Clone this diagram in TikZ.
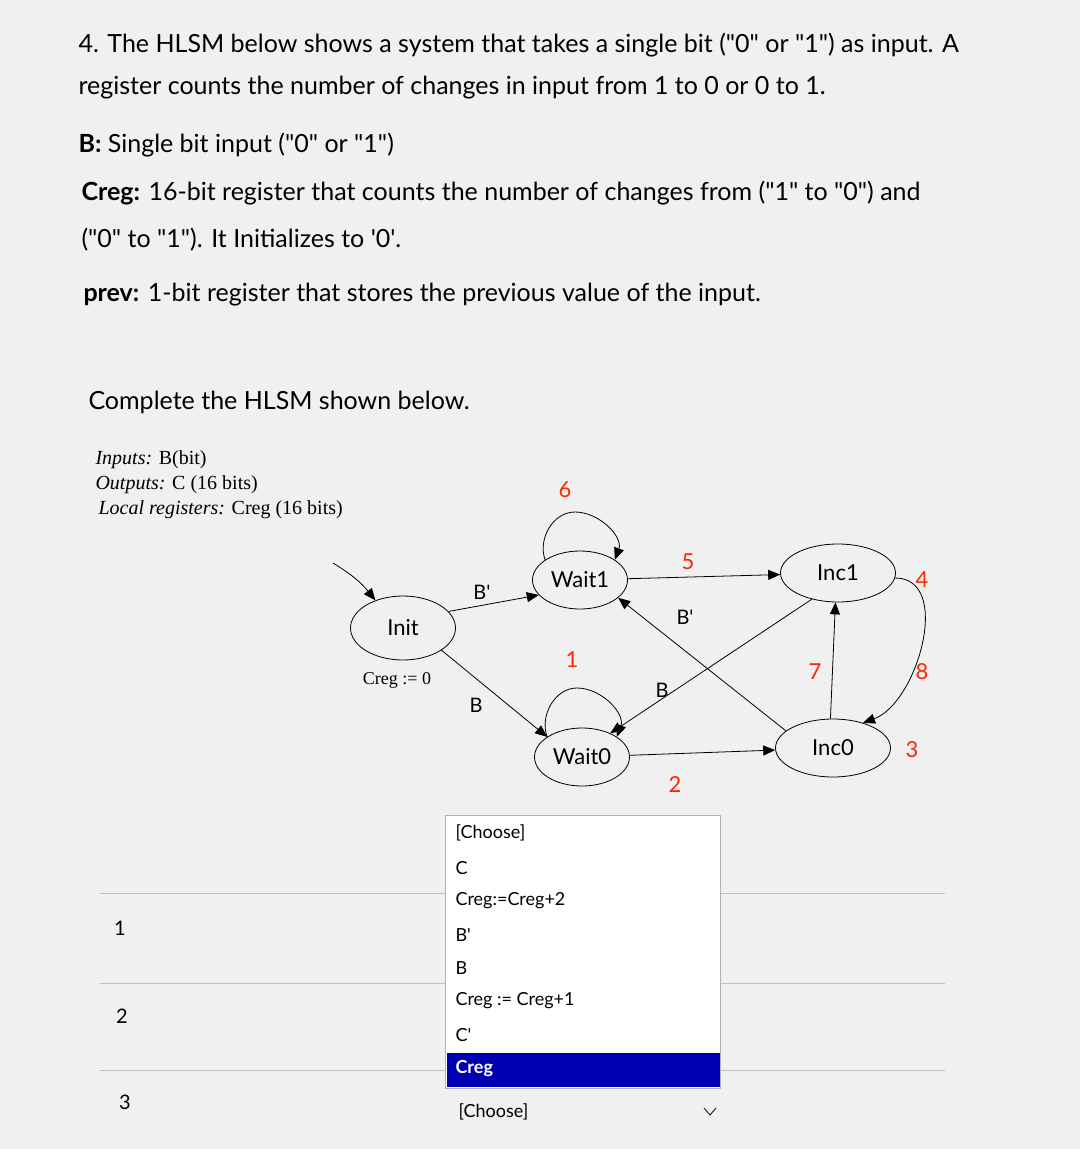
\documentclass[tikz,border=0pt]{standalone}
\usepackage{fontspec}
\setmainfont{Lato}
\newfontfamily\plainlato{Lato}[Ligatures=ResetAll]
\newfontfamily\serifx{Liberation Serif}
\usetikzlibrary{arrows.meta,shapes.geometric}
\newcommand\dq{{\plainlato\symbol{34}}}
\newcommand\sq{{\plainlato\symbol{39}}}
\begin{document}
\begin{tikzpicture}[x=1pt,y=-1pt,
  st/.style={draw,ellipse,thick,minimum width=100pt,minimum height=58pt,font=\fontsize{22}{24}\selectfont},
  ar/.style={thick,-{Triangle[length=12pt,width=10pt]}},
  red/.style={text=red!70!orange,font=\fontsize{22}{24}\selectfont},
  lab/.style={font=\fontsize{20}{22}\selectfont},
  tx/.style={anchor=west,font=\fontsize{25}{28}\selectfont},
  it/.style={anchor=west,font=\serifx\itshape\fontsize{20}{22}\selectfont},
  dd/.style={anchor=west,font=\fontsize{18}{20}\selectfont}]
\useasboundingbox[fill=gray!12] (0,0) rectangle (1080,1149);
\node[tx] (t1) at (75,45) {4. The HLSM below shows a system that takes a single bit (\dq0\dq{} or \dq1\dq) as input. A};
\node[tx] (t2) at (75,88) {register counts the number of changes in input from 1 to 0 or 0 to 1.};
\node[tx] (t3) at (75,145) {\textbf{B:} Single bit input (\dq0\dq{} or \dq1\dq)};
\node[tx] (t4) at (78,193) {\textbf{Creg:} 16-bit register that counts the number of changes from (\dq1\dq{} to \dq0\dq) and};
\node[tx] (t5) at (78,240) {(\dq0\dq{} to \dq1\dq). It Initializes to \sq0\sq.};
\node[tx] (t6) at (80,295) {\textbf{prev:} 1-bit register that stores the previous value of the input.};
\node[tx] (t7) at (85,402) {Complete the HLSM shown below.};
\node[it] (i1) at (92,460) {Inputs:\/ \upshape B(bit)};
\node[it] (i2) at (92,485) {Outputs:\/ \upshape C (16 bits)};
\node[it] (i3) at (95,510) {Local registers:\/ \upshape Creg (16 bits)};
\node[st,minimum width=105pt,minimum height=64pt] (init) at (403,628) {Init};
\node[st,minimum width=95pt] (w1) at (580,580) {Wait1};
\node[st,minimum width=95pt] (w0) at (582,757) {Wait0};
\node[st,minimum width=115pt] (i1s) at (838,573) {Inc1};
\node[st,minimum width=115pt] (i0s) at (833,748) {Inc0};
\coordinate (s0) at (333,563);
\draw[ar] (s0) to[bend left=10] (init.135);
\draw[ar] (init.20) -- (w1.200);
\draw[ar] (init.-30) -- (w0.150);
\draw[ar] (w1.150) to[out=110,in=180] (575,512) to[out=0,in=70] (w1.30);
\draw[ar] (w0.150) to[out=110,in=180] (577,688) to[out=0,in=70] (w0.30);
\draw[ar] (w1) -- (i1s);
\draw[ar] (w0) -- (i0s);
\draw[ar] (i1s.225) -- (w0.40);
\draw[ar] (i0s.160) -- (w1.-25);
\draw[ar] (i0s.95) -- (i1s.-95);
\draw[ar] (i1s.-5) to[out=0,in=20] (i0s.40);
\node[lab] (lb1) at (482,592) {B\sq};
\node[lab] (lb2) at (685,617) {B\sq};
\node[lab] (lb3) at (476,705) {B};
\node[lab] (lb4) at (662,690) {B};
\node[font=\serifx\fontsize{18}{20}\selectfont] (c0) at (397,680) {Creg := 0};
\node[red] at (565,490) {6};
\node[red] at (688,562) {5};
\node[red] at (572,660) {1};
\node[red] at (815,672) {7};
\node[red] at (922,672) {8};
\node[red] at (922,580) {4};
\node[red] at (912,750) {3};
\node[red] at (675,785) {2};
\draw[gray!50] (100,893) -- (945,893) (100,983) -- (945,983) (100,1070) -- (945,1070);
\node[lab] at (120,928) {1};
\node[lab] at (122,1016) {2};
\node[lab] at (125,1102) {3};
\filldraw[fill=white,draw=gray!60] (445,815) rectangle (720,1088);
\fill[blue!70!black] (447,1053) rectangle (720,1087);
\node[dd] at (452,833) {[Choose]};
\node[dd] at (452,868) {C};
\node[dd] at (452,901) {Creg:=Creg+2};
\node[dd] at (452,935) {B\sq};
\node[dd] at (452,968) {B};
\node[dd] at (452,1001) {Creg := Creg+1};
\node[dd] at (452,1035) {C\sq};
\node[dd,text=white,font=\bfseries\fontsize{18}{20}\selectfont] at (452,1069) {Creg};
\node[dd] at (455,1112) {[Choose]};
\draw[thick] (704,1108) -- (710,1115) -- (716,1108);
\end{tikzpicture}
\end{document}
